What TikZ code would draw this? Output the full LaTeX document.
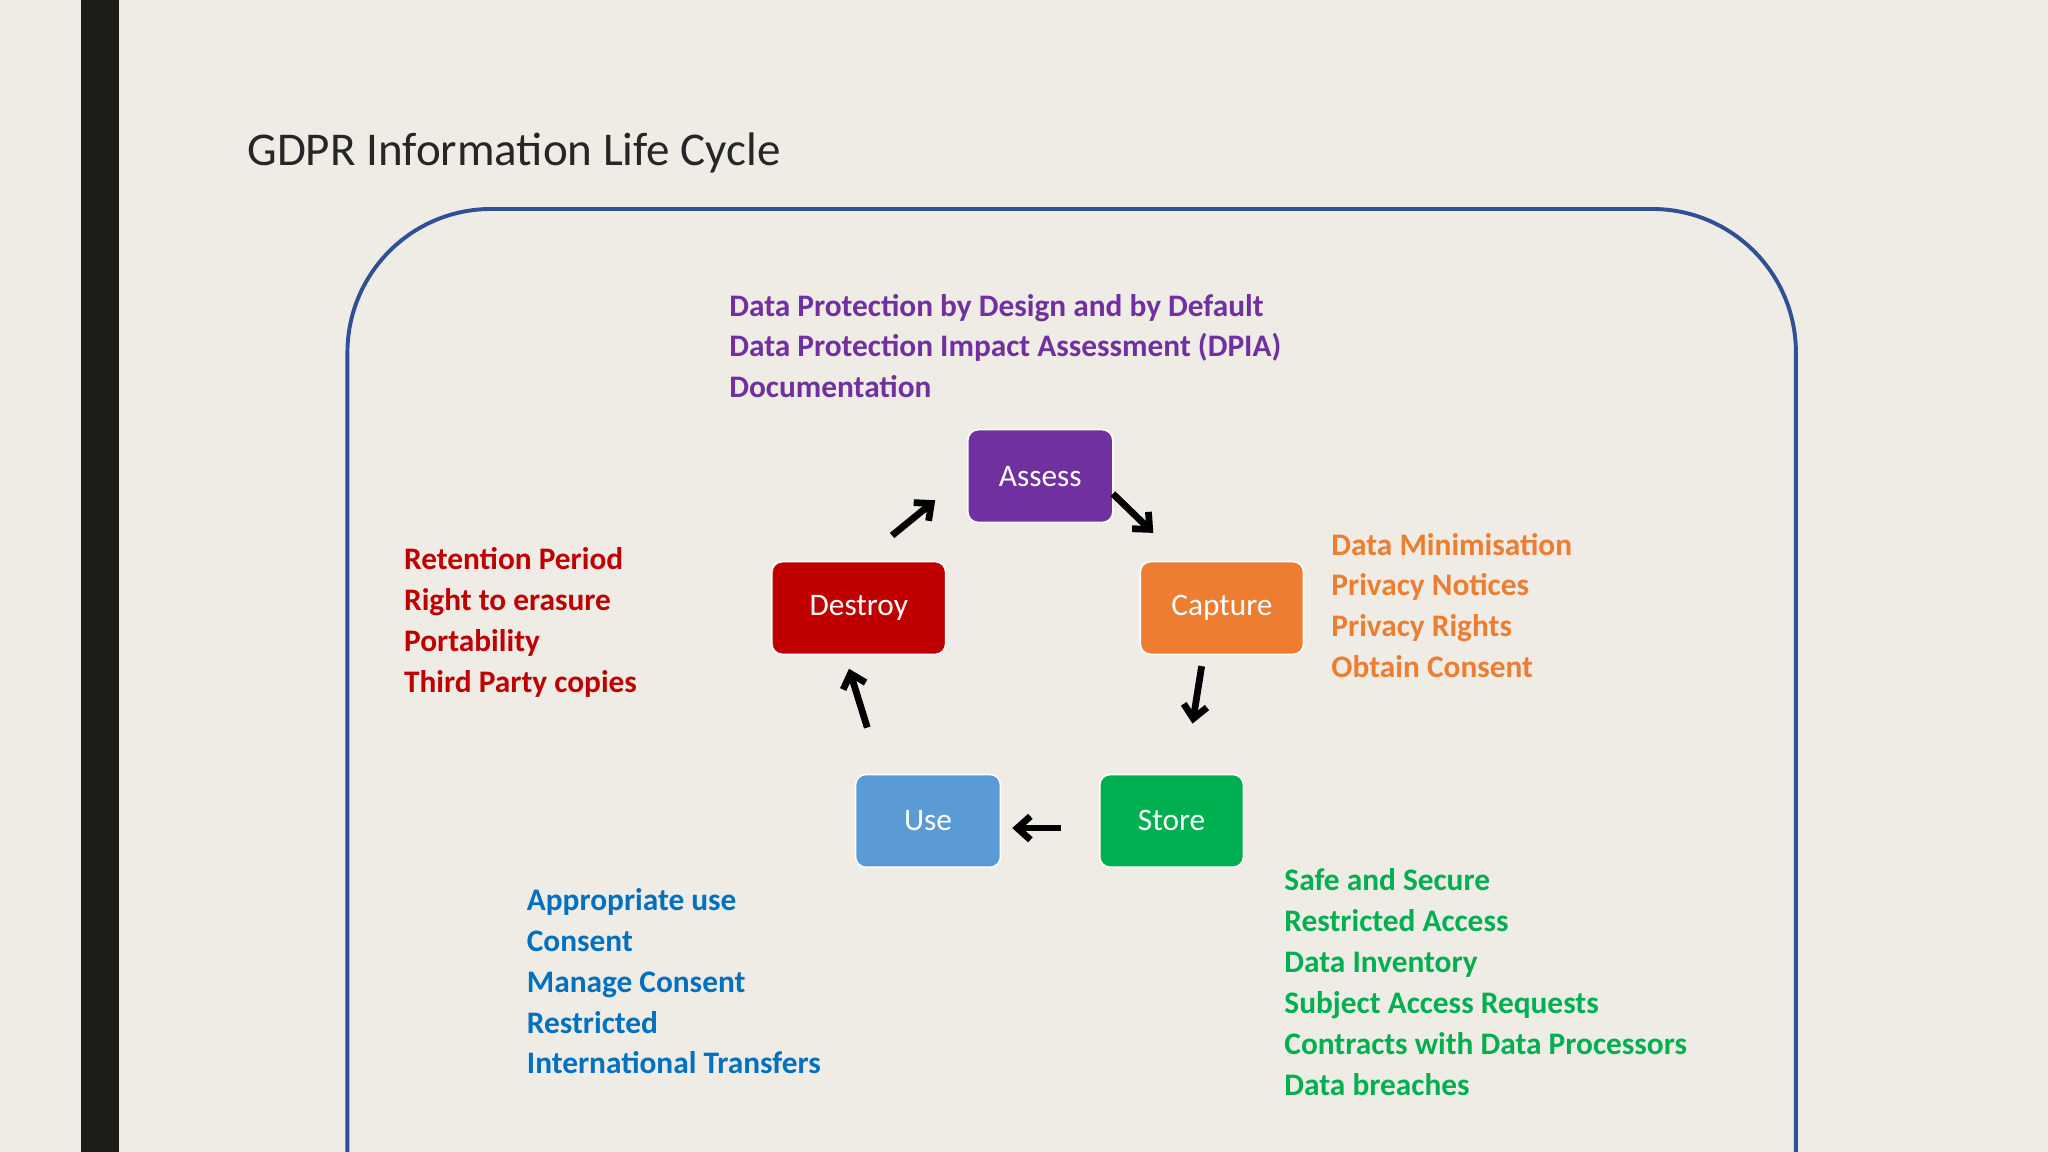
\documentclass[tikz,border=0pt]{standalone}
\usepackage{fontspec}
\setmainfont{Carlito}
\usetikzlibrary{arrows.meta}
\definecolor{bg}{HTML}{EFECE6}
\definecolor{bar}{HTML}{1C1E17}
\definecolor{frame}{HTML}{2F4F96}
\definecolor{cpur}{HTML}{7030A0}
\definecolor{corg}{HTML}{ED7D31}
\definecolor{cgrn}{HTML}{00B050}
\definecolor{cblu}{HTML}{5B9BD5}
\definecolor{cred}{HTML}{C00000}
\definecolor{tblu}{HTML}{0070C0}
\begin{document}
\begin{tikzpicture}[x=0.5pt,y=-0.5pt,
  box/.style={draw=white,line width=0.6pt,rounded corners=4pt,text=white,font=\fontsize{12}{14}\selectfont,inner sep=0pt},
  lbl/.style={anchor=base west,font=\bfseries\fontsize{12}{14}\selectfont,inner sep=0pt},
  arr/.style={line width=2.6pt,-{Straight Barb[length=5pt,width=9pt,line width=2.6pt]}}]
\useasboundingbox (0,0) rectangle (1568,882);
\fill[bg] (0,0) rectangle (1568,882);
\fill[bar] (62,0) rectangle (91,882);
\node[anchor=base west,inner sep=0pt,font=\fontsize{18}{20}\selectfont,text=black!85] (title) at (189,127) {GDPR Information Life Cycle};
\draw[frame,line width=1.5pt,rounded corners=55pt] (266,940) -- (266,160) -- (1375,160) -- (1375,940);
% boxes
\node[box,fill=cpur,minimum width=55.5pt,minimum height=35.5pt] (assess) at (796.5,364.5) {Assess};
\node[box,fill=corg,minimum width=62.5pt,minimum height=35.5pt] (capture) at (935.5,465.5) {Capture};
\node[box,fill=cgrn,minimum width=55pt,minimum height=35.5pt] (store) at (897,628.5) {Store};
\node[box,fill=cblu,minimum width=55.5pt,minimum height=35.5pt] (use) at (710.5,628.5) {Use};
\node[box,fill=cred,minimum width=66.5pt,minimum height=35.5pt] (destroy) at (657.5,465.5) {Destroy};
% arrows
\coordinate (a1) at (852,378); \coordinate (a2) at (883,408);
\coordinate (b1) at (920,510); \coordinate (b2) at (913,554);
\coordinate (c1) at (812,634); \coordinate (c2) at (775,634);
\coordinate (d1) at (664,557); \coordinate (d2) at (650,512);
\coordinate (e1) at (683,410); \coordinate (e2) at (716,383);
\draw[arr] (a1) -- (a2);
\draw[arr] (b1) -- (b2);
\draw[arr] (c1) -- (c2);
\draw[arr] (d1) -- (d2);
\draw[arr] (e1) -- (e2);
% labels
\foreach \t [count=\i] in {Data Protection by Design and by Default,Data Protection Impact Assessment (DPIA),Documentation}
  \node[lbl,text=cpur] (p\i) at (558,{242+31.3*(\i-1)}) {\t};
\foreach \t [count=\i] in {Data Minimisation,Privacy Notices,Privacy Rights,Obtain Consent}
  \node[lbl,text=corg] (o\i) at (1019,{425+31.3*(\i-1)}) {\t};
\foreach \t [count=\i] in {Retention Period,Right to erasure,Portability,Third Party copies}
  \node[lbl,text=cred] (r\i) at (309,{436+31.3*(\i-1)}) {\t};
\foreach \t [count=\i] in {Appropriate use,Consent,Manage Consent,Restricted,International Transfers}
  \node[lbl,text=tblu] (u\i) at (403,{697+31.3*(\i-1)}) {\t};
\foreach \t [count=\i] in {Safe and Secure,Restricted Access,Data Inventory,Subject Access Requests,Contracts with Data Processors,Data breaches}
  \node[lbl,text=cgrn] (g\i) at (983,{682+31.3*(\i-1)}) {\t};
\end{tikzpicture}
\end{document}
